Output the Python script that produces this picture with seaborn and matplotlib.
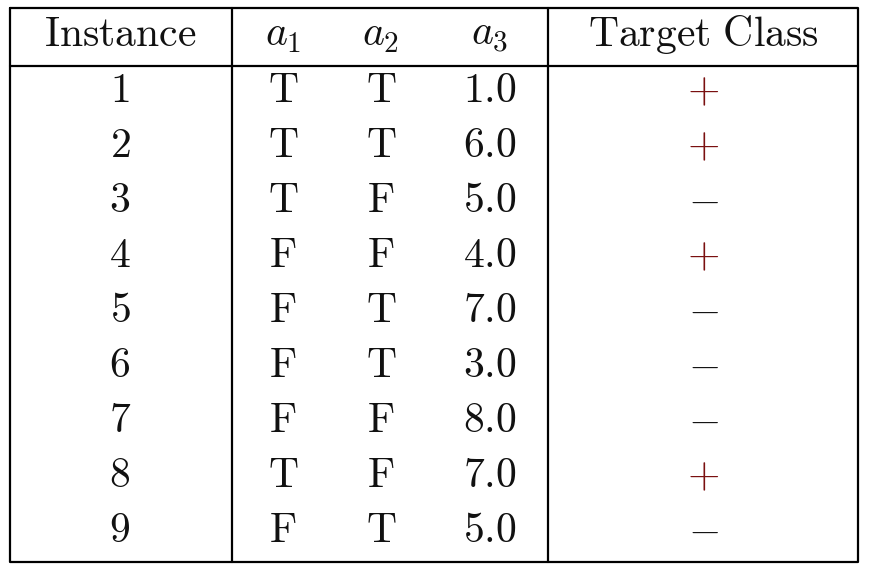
import matplotlib
matplotlib.use("Agg")
import matplotlib.pyplot as plt
import seaborn as sns

# ---- table data ----
headers   = ["Instance", "$a_1$", "$a_2$", "$a_3$", "Target Class"]
instances = [1, 2, 3, 4, 5, 6, 7, 8, 9]
a1        = ["T", "T", "T", "F", "F", "F", "F", "T", "F"]
a2        = ["T", "T", "F", "F", "T", "T", "F", "F", "T"]
a3        = [1.0, 6.0, 5.0, 4.0, 7.0, 3.0, 8.0, 7.0, 5.0]
target    = ["+", "+", "-", "+", "-", "-", "-", "+", "-"]

sns.set_theme(style="white")
plt.rcParams["mathtext.fontset"] = "cm"
plt.rcParams["font.family"] = ["DejaVu Serif"]

W, H = 895, 579
fig = plt.figure(figsize=(W / 100, H / 100), dpi=100)
ax = fig.add_axes([0, 0, 1, 1])
ax.set_xlim(0, W)
ax.set_ylim(H, 0)
ax.axis("off")

# layout (pixels)
col_x = [120, 283, 381, 490, 703]
header_y = 34
row_y0, row_dy = 90, 55
left, right, top, bottom = 10, 858, 8, 562
vlines = [232, 548]
fs = 30

def rm(s):
    return r"$\mathrm{" + s.replace(" ", r"\ ") + "}$"

line_kw = dict(color="black", lw=1.6)
ax.plot([left, right, right, left, left], [top, top, bottom, bottom, top], **line_kw)
ax.plot([left, right], [66, 66], **line_kw)
for x in vlines:
    ax.plot([x, x], [top, bottom], **line_kw)

for x, h in zip(col_x, headers):
    label = h if h.startswith("$") else rm(h)
    ax.text(x, header_y, label, ha="center", va="center", fontsize=fs, color="#111111")

for i, inst in enumerate(instances):
    y = row_y0 + i * row_dy
    vals = [str(inst), a1[i], a2[i], f"{a3[i]:.1f}"]
    for x, v in zip(col_x[:4], vals):
        ax.text(x, y, rm(v), ha="center", va="center", fontsize=fs, color="#111111")
    if target[i] == "+":
        ax.text(col_x[4], y, "$+$", ha="center", va="center", fontsize=fs, color="#7a1010")
    else:
        ax.text(col_x[4], y, r"$-$", ha="center", va="center", fontsize=fs, color="#111111")

fig.savefig("out.png", dpi=100)
